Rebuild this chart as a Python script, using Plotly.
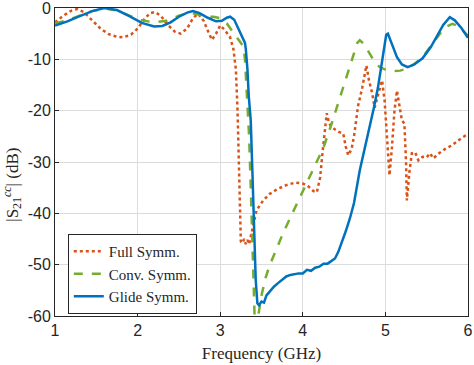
import plotly.graph_objects as go

# Frequency (GHz) and |S21cc| (dB)
glide_f = [1.0, 1.15, 1.3, 1.45, 1.6, 1.75, 1.9, 2.05, 2.2, 2.3, 2.4, 2.5, 2.6, 2.67, 2.75, 2.85, 2.95,
           3.02, 3.08, 3.12, 3.17, 3.22, 3.26, 3.30, 3.31, 3.33, 3.345, 3.36, 3.37, 3.39, 3.41, 3.43, 3.45,
           3.47, 3.50, 3.53, 3.56, 3.60, 3.65, 3.70, 3.75, 3.80, 3.85, 3.90, 3.95, 4.0, 4.05, 4.10, 4.15,
           4.20, 4.25, 4.30, 4.35, 4.39, 4.43, 4.47, 4.52, 4.57, 4.62, 4.69, 4.75, 4.81, 4.86, 4.91, 4.95,
           4.98, 5.01, 5.03, 5.06, 5.09, 5.14, 5.20, 5.27, 5.35, 5.45, 5.55, 5.62, 5.70, 5.78, 5.84, 5.92, 6.0]
glide_db = [-3.4, -2.6, -1.6, -0.6, 0.0, -0.4, -1.6, -2.9, -3.6, -3.5, -2.8, -1.7, -0.9, -0.6, -1.0, -1.9, -2.6,
            -2.5, -1.9, -1.7, -2.3, -4.0, -5.5, -6.8, -8.0, -12.0, -17.0, -19.5, -22.0, -32.0, -43.9, -53.0, -57.5,
            -57.9, -57.2, -57.4, -56.0, -55.2, -54.3, -53.6, -53.0, -52.3, -52.0, -51.8, -51.7, -51.7, -51.0, -51.2, -50.6,
            -50.4, -49.8, -49.8, -49.3, -48.8, -47.5, -45.8, -43.5, -41.0, -38.0, -31.6, -27.5, -23.3, -19.5, -15.5, -11.5,
            -8.0, -5.2, -5.0, -6.2, -7.7, -9.6, -11.0, -11.5, -11.0, -9.8, -7.6, -5.7, -3.3, -1.8, -2.4, -3.9, -5.8]

conv_f = [1.0, 1.15, 1.3, 1.45, 1.6, 1.75, 1.9, 2.05, 2.2, 2.35, 2.5, 2.62, 2.72, 2.82, 2.92, 3.0, 3.08,
          3.16, 3.22, 3.28, 3.30, 3.33, 3.35, 3.37, 3.39, 3.41, 3.42, 3.45, 3.46, 3.50, 3.55, 3.60, 3.68,
          3.76, 3.85, 3.97, 4.05, 4.12, 4.25, 4.35, 4.45, 4.53, 4.61, 4.66, 4.69, 4.74, 4.81, 4.87, 4.93,
          5.0, 5.09, 5.18, 5.26, 5.35, 5.45, 5.55, 5.66, 5.74, 5.81, 5.88, 5.95, 6.0]
conv_db = [-3.0, -2.4, -1.5, -0.6, -0.1, -0.5, -1.5, -2.4, -2.8, -2.5, -1.5, -0.9, -1.2, -1.7, -1.7, -2.0, -3.0,
           -4.8, -6.0, -7.5, -10.0, -18.0, -25.0, -35.0, -46.0, -60.0, -62.0, -62.0, -60.0, -56.0, -52.5, -50.1, -47.0,
           -43.9, -40.8, -36.8, -34.1, -31.6, -27.2, -22.5, -17.4, -13.0, -8.9, -6.8, -6.3, -7.0, -8.9, -10.5, -11.5,
           -12.0, -12.3, -12.2, -11.8, -10.9, -9.6, -7.4, -5.0, -3.6, -3.1, -3.5, -4.6, -5.4]

full_f = [1.0, 1.1, 1.2, 1.27, 1.35, 1.45, 1.55, 1.65, 1.75, 1.83, 1.92, 2.0, 2.08, 2.15, 2.21, 2.28, 2.36,
          2.45, 2.52, 2.6, 2.67, 2.73, 2.8, 2.86, 2.90, 2.95, 3.0, 3.05, 3.12, 3.16, 3.19, 3.21, 3.23, 3.24,
          3.25, 3.27, 3.29, 3.31, 3.33, 3.35, 3.37, 3.39, 3.44, 3.52, 3.60, 3.69, 3.80, 3.91, 4.0, 4.07,
          4.13, 4.17, 4.21, 4.24, 4.27, 4.29, 4.32, 4.35, 4.42, 4.49, 4.52, 4.55, 4.59, 4.62, 4.67, 4.72,
          4.77, 4.80, 4.84, 4.87, 4.91, 4.96, 4.99, 5.02, 5.05, 5.08, 5.11, 5.14, 5.17, 5.2, 5.23, 5.25,
          5.26, 5.29, 5.32, 5.36, 5.40, 5.45, 5.50, 5.54, 5.58, 5.65, 5.72, 5.80, 5.9, 6.0]
full_db = [-2.8, -1.5, -0.5, -0.2, -0.8, -2.5, -4.0, -5.1, -5.6, -5.7, -5.2, -4.0, -2.2, -1.0, -0.8, -1.5, -3.2,
           -4.6, -5.0, -4.0, -2.0, -1.1, -2.5, -4.8, -6.2, -5.0, -3.4, -4.2, -5.7, -8.0, -12.0, -20.0, -32.0, -42.0,
           -45.5, -45.8, -45.0, -46.0, -45.2, -46.0, -44.5, -42.7, -39.4, -37.5, -36.2, -35.3, -34.5, -34.0, -34.2, -34.8,
           -35.7, -35.9, -33.0, -28.0, -23.0, -20.5, -22.5, -23.2, -24.0, -24.5, -27.0, -28.7, -27.5, -25.0, -19.0, -15.5,
           -11.2, -14.0, -16.6, -19.4, -17.0, -14.1, -18.0, -26.0, -32.6, -27.0, -20.0, -16.1, -19.0, -21.9, -22.5, -30.0,
           -37.5, -32.0, -28.3, -28.1, -29.7, -29.0, -29.1, -28.3, -29.3, -28.3, -27.5, -26.8, -25.6, -24.5]

x_ticks = [1, 2, 3, 4, 5, 6]
x_ticktext = ["1", "2", "3", "4", "5", "6"]
y_ticks = [-60, -50, -40, -30, -20, -10, 0]
y_ticktext = ["-60", "-50", "-40", "-30", "-20", "-10", "0"]

SERIF = "Liberation Serif, DejaVu Serif, serif"
INK = "#262626"

fig = go.Figure()
fig.add_trace(go.Scatter(x=full_f, y=full_db, mode="lines", name="Full Symm.",
                         line=dict(color="#D95319", width=2.5, dash="dot")))
fig.add_trace(go.Scatter(x=conv_f, y=conv_db, mode="lines", name="Conv. Symm.",
                         line=dict(color="#77AC30", width=2.5, dash="dash")))
fig.add_trace(go.Scatter(x=glide_f, y=glide_db, mode="lines", name="Glide Symm.",
                         line=dict(color="#0072BD", width=2.5)))

axis_common = dict(showline=True, linecolor=INK, linewidth=1, mirror=True,
                   showgrid=True, gridcolor="#dcdcdc", gridwidth=1, zeroline=False,
                   ticks="inside", ticklen=4, tickcolor=INK, automargin=False,
                   ticklabeloverflow="allow",
                   tickfont=dict(family="Liberation Sans, Arial", size=16, color=INK))

fig.update_layout(
    width=474, height=365,
    margin=dict(l=55, r=6, t=8, b=49),
    paper_bgcolor="white", plot_bgcolor="white",
    xaxis=dict(range=[0.9999, 6.0001], tickvals=x_ticks, ticktext=x_ticktext, **axis_common,
               title=dict(text="Frequency (GHz)", standoff=8,
                          font=dict(family=SERIF, size=17, color=INK))),
    yaxis=dict(range=[-60.001, 0.001], tickvals=y_ticks, ticktext=y_ticktext, **axis_common),
    legend=dict(x=0.031, y=0.266, xanchor="left", yanchor="top",
                bgcolor="white", bordercolor=INK, borderwidth=1,
                font=dict(family=SERIF, size=15, color=INK),
                tracegroupgap=0),
    showlegend=True,
    annotations=[dict(text="|S<sub>21</sub><sup><i>cc</i></sup>| (dB)", textangle=-90,
                      xref="paper", yref="paper", x=-0.105, y=0.425,
                      xanchor="center", yanchor="middle", showarrow=False,
                      font=dict(family=SERIF, size=17, color=INK))],
)

fig.write_html("out.html", config={"displayModeBar": False},
               post_script="document.body.style.margin='0';document.body.style.padding='0';")
